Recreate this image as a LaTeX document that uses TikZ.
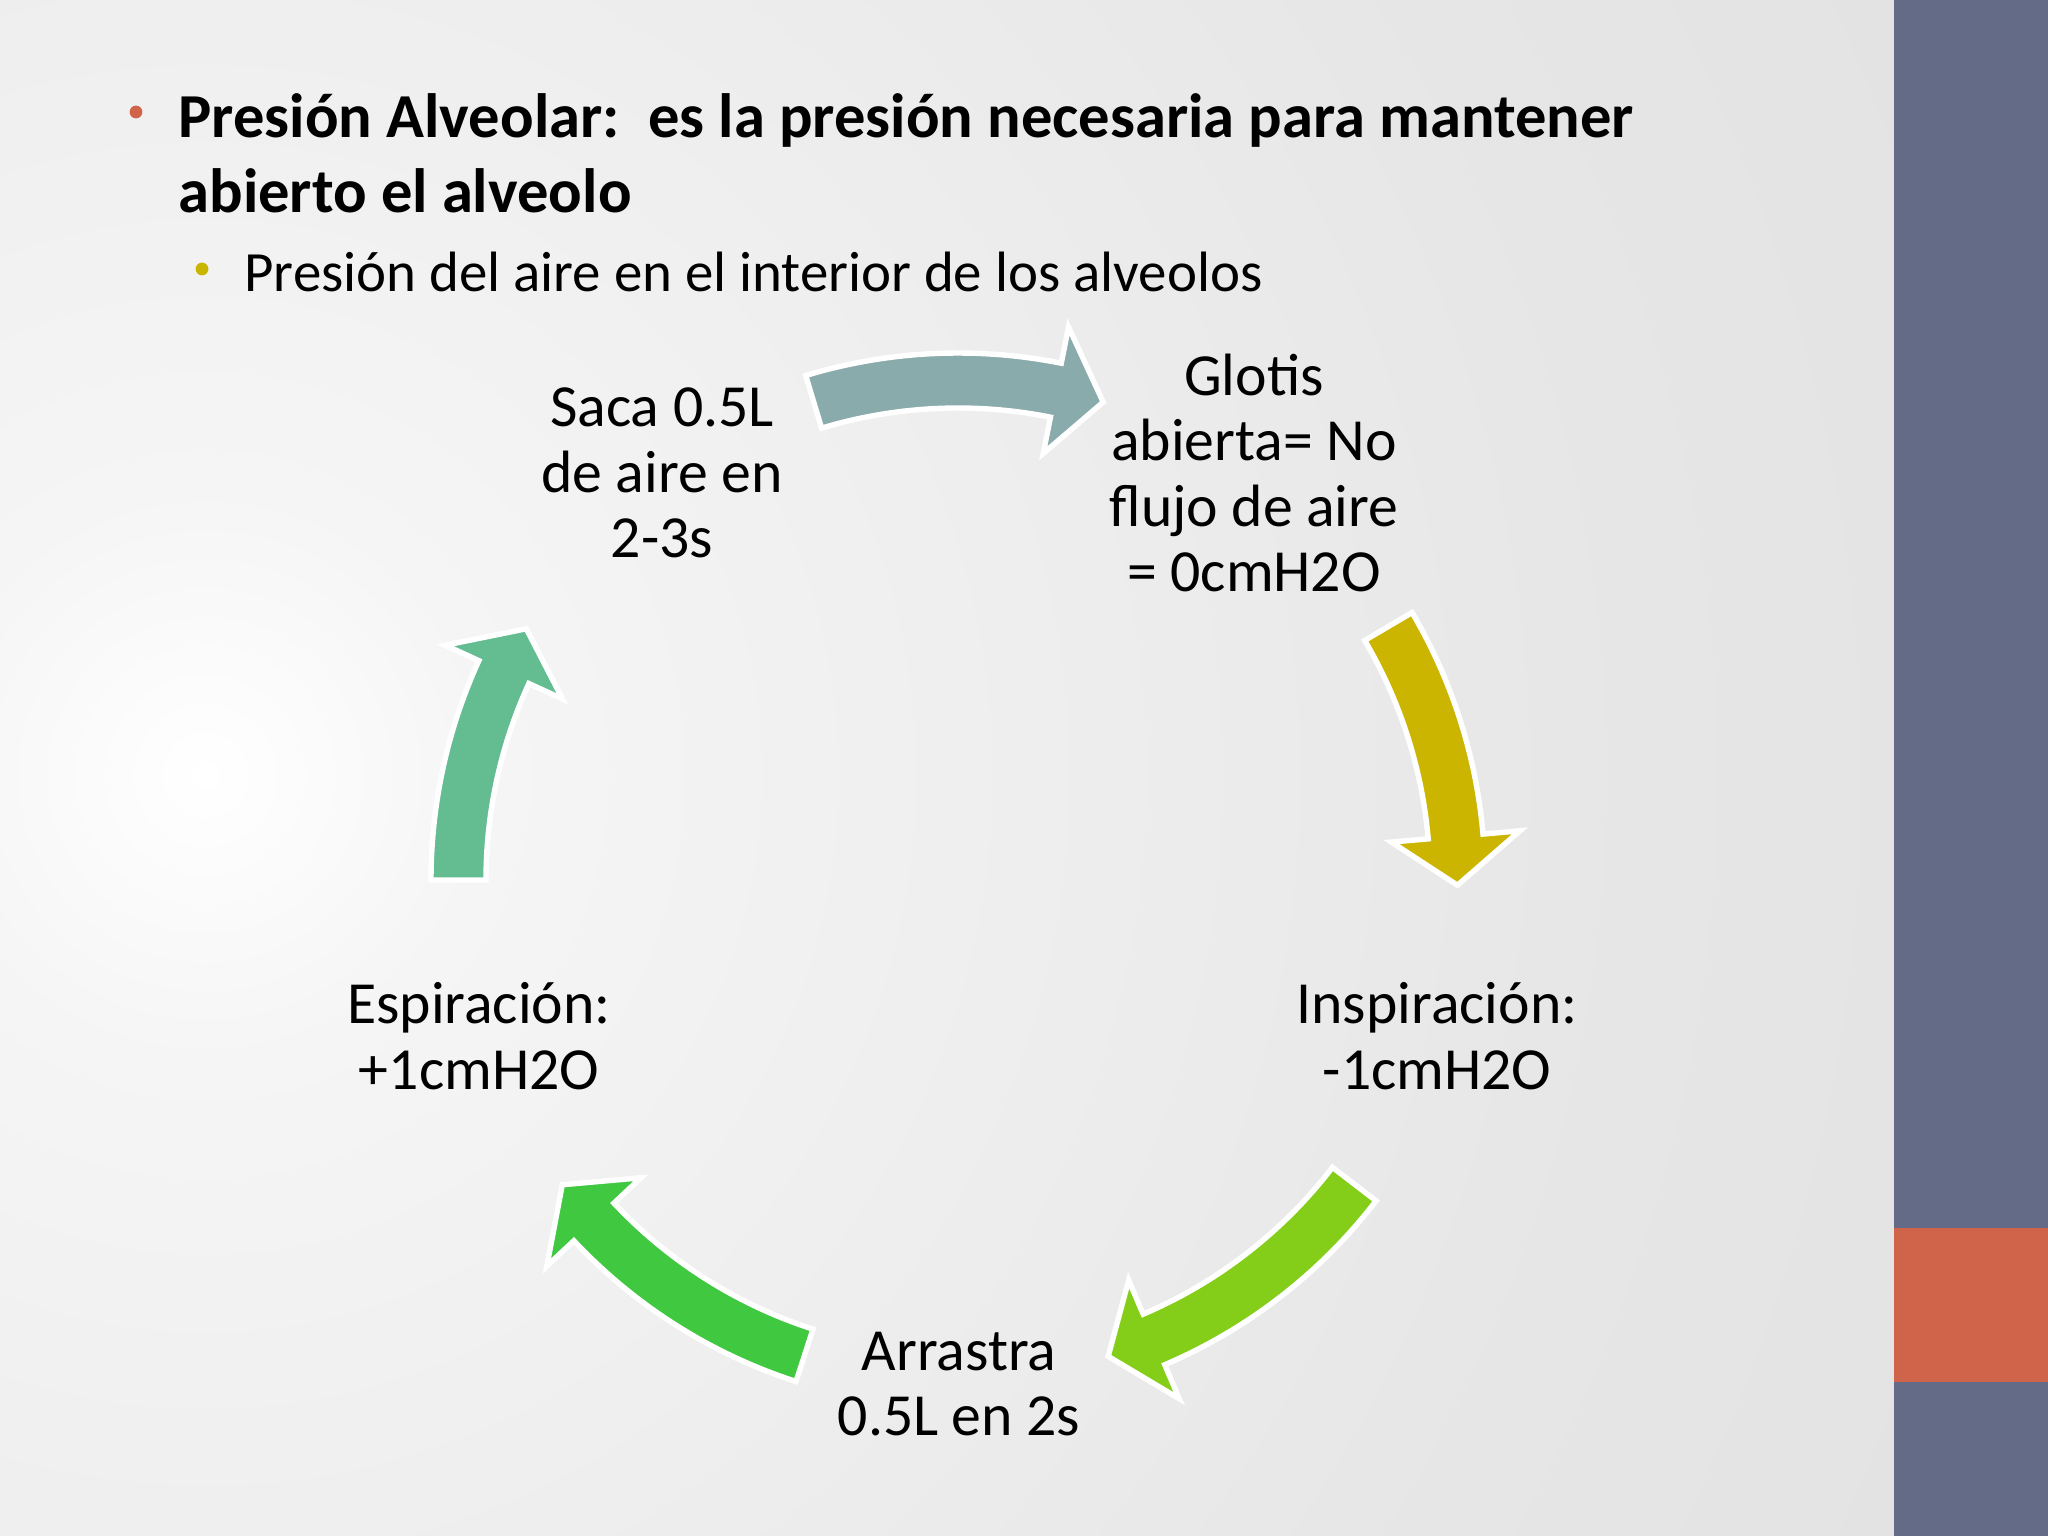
\documentclass[tikz,border=0pt]{standalone}
\usepackage{fontspec}
\setmainfont{Carlito}
\definecolor{bgdark}{HTML}{D7D7D7}
\definecolor{bgmid}{HTML}{E6E6E6}
\definecolor{barblue}{HTML}{636B86}
\definecolor{barorange}{HTML}{D0644A}
\definecolor{bulorange}{HTML}{D0644A}
\definecolor{bulyellow}{HTML}{C9B400}
\definecolor{arrA}{HTML}{89ABAB}
\definecolor{arrB}{HTML}{CBB500}
\definecolor{arrC}{HTML}{84CE1A}
\definecolor{arrD}{HTML}{40C840}
\definecolor{arrE}{HTML}{64BC91}
\pgfdeclareradialshading{bgshade}{\pgfpoint{0bp}{0bp}}{color(0bp)=(white); color(2bp)=(white!60!bgmid); color(10bp)=(bgmid); color(25bp)=(bgdark); color(50bp)=(bgdark)}
\tikzset{
  lbl/.style={align=center, text=black, inner sep=0pt, font=\fontsize{21}{23}\selectfont},
  cyclearrow/.style={draw=white, line width=1.9pt, line join=miter},
  bulletdot/.style={circle, inner sep=0pt, minimum size=4.5pt}
}
\begin{document}
\begin{tikzpicture}[x=0.3515625pt, y=-0.3515625pt]
\useasboundingbox (0,0) rectangle (2048,1536);
% background
\begin{scope}
\clip (0,0) rectangle (2048,1536);
\fill[bgdark] (0,0) rectangle (2048,1536);
\shade[shading=bgshade] (205,775) circle (3600);
\end{scope}
% right bar
\fill[barblue] (1894,0) rectangle (2048,1536);
\fill[barorange] (1894,1228) rectangle (2048,1382);
% title
\node[bulletdot, fill=bulorange] (b1) at (136,112) {};
\node[anchor=base west, inner sep=0pt, font=\bfseries\fontsize{22}{26}\selectfont] (t1) at (178,138) {Presión Alveolar:\ \ es la presión necesaria para mantener};
\node[anchor=base west, inner sep=0pt, font=\bfseries\fontsize{22}{26}\selectfont] (t2) at (178,213) {abierto el alveolo};
\node[bulletdot, fill=bulyellow] (b2) at (202,269) {};
\node[anchor=base west, inner sep=0pt, font=\fontsize{20}{24}\selectfont] (t3) at (244,292) {Presión del aire en el interior de los alveolos};
% cycle arrows: start angle / tip angle (clockwise from top)
\begin{scope}[shift={(958,880)}]
\foreach \s/\e/\col in {-16.8/16.9/arrA, 59.5/90.6/arrB, 127.5/162.5/arrC, 197.9/232.4/arrD, 270/300.2/arrE}{
  \pgfmathsetmacro\ta{\s-90}
  \pgfmathsetmacro\th{\e-5.6-90}
  \pgfmathsetmacro\tt{\e-90}
  \draw[cyclearrow, fill=\col] (\ta:527) arc[start angle=\ta, end angle=\th, radius=527]
    -- (\th:564) -- (\tt:499.5) -- (\th:435) -- (\th:472)
    arc[start angle=\th, end angle=\ta, radius=472] -- cycle;
}
\end{scope}
% cycle labels
\node[lbl] (saca) at (662,473) {Saca 0.5L\\de aire en\\2-3s};
\node[lbl] (glotis) at (1254,473) {Glotis\\abierta= No\\flujo de aire\\= 0cmH2O};
\node[lbl] (insp) at (1437,1036) {Inspiración:\\-1cmH2O};
\node[lbl] (arr) at (959,1384) {Arrastra\\0.5L en 2s};
\node[lbl] (esp) at (479,1036) {Espiración:\\+1cmH2O};
\end{tikzpicture}
\end{document}
